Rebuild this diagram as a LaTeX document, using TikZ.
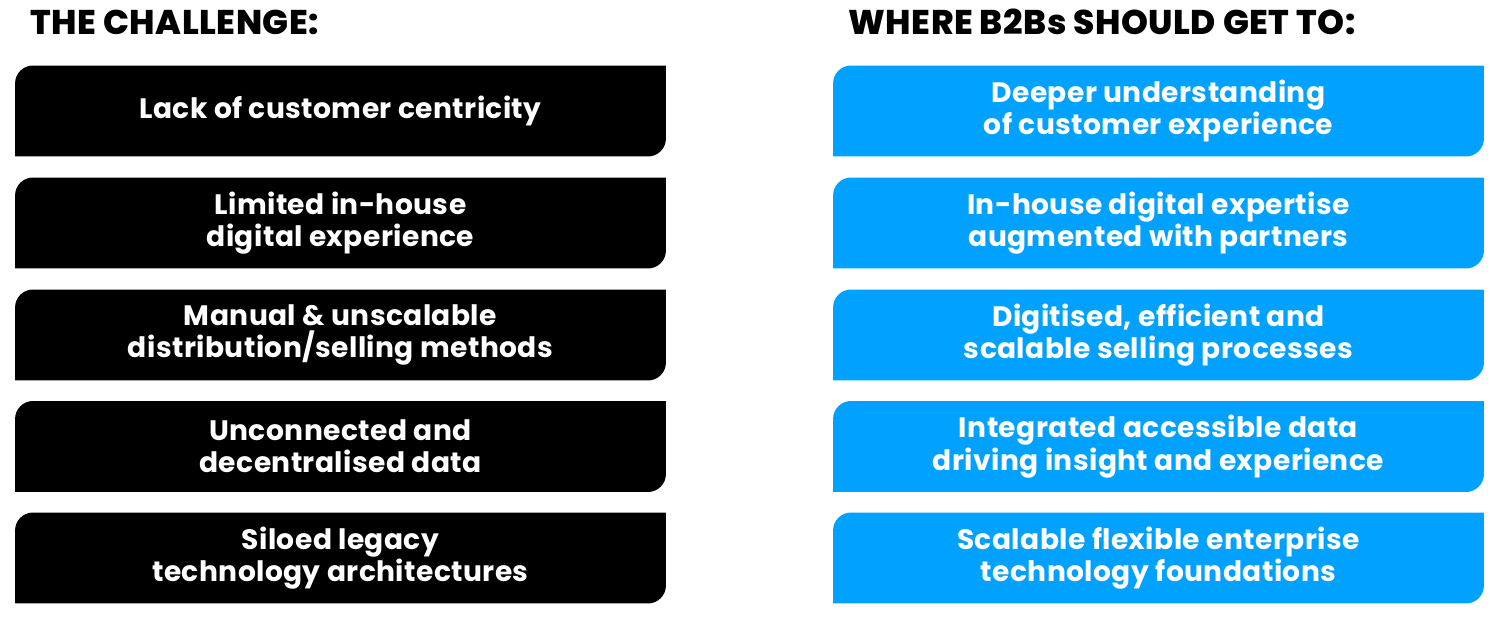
\documentclass[tikz,border=0pt]{standalone}
\usepackage{fontspec}
\setmainfont{Poppins}[LetterSpace=1.5]
\newfontfamily\headfont{Poppins}[UprightFont=* ExtraBold, LetterSpace=1.5]
\usepackage{tikz}
\definecolor{targetblue}{RGB}{0,161,255}

\begin{document}
\begin{tikzpicture}[
  x=0.02cm, y=-0.02cm,
  heading/.style={anchor=west, inner sep=0pt, font=\fontsize{19.5}{22}\headfont},
  panel/.style={minimum width=13.02cm, minimum height=1.82cm, inner sep=0pt,
                align=center, text=white,
                font=\fontsize{16}{18.4}\selectfont\bfseries,
                path picture={\fill[#1]
                  ([yshift=-0.36cm]path picture bounding box.north west)
                  arc[start angle=180, end angle=90, radius=0.36cm]
                  -- (path picture bounding box.north east)
                  -- ([yshift=0.36cm]path picture bounding box.south east)
                  arc[start angle=0, end angle=-90, radius=0.36cm]
                  -- (path picture bounding box.south west) -- cycle;}},
  challenge/.style={panel=black},
  target/.style={panel=targetblue}
]
  \useasboundingbox (0,0) rectangle (1500,617);
  \node[heading] (hc) at (30,22) {THE CHALLENGE:};
  \node[heading] (ht) at (848,22) {WHERE B2Bs SHOULD GET TO:};
  % left column
  \node[challenge] (c1) at (340.5,111) {Lack of customer centricity};
  \node[challenge] (c2) at (340.5,223) {Limited in-house\\digital experience};
  \node[challenge] (c3) at (340.5,335) {Manual \& unscalable\\distribution/selling methods};
  \node[challenge] (c4) at (340.5,446.5) {Unconnected and\\decentralised data};
  \node[challenge] (c5) at (340.5,558) {Siloed legacy\\technology architectures};
  % right column
  \node[target] (t1) at (1158.5,111) {Deeper understanding\\of customer experience};
  \node[target] (t2) at (1158.5,223) {In-house digital expertise\\augmented with partners};
  \node[target] (t3) at (1158.5,335) {Digitised, efficient and\\scalable selling processes};
  \node[target] (t4) at (1158.5,446.5) {Integrated accessible data\\driving insight and experience};
  \node[target] (t5) at (1158.5,558) {Scalable flexible enterprise\\technology foundations};
\end{tikzpicture}
\end{document}
